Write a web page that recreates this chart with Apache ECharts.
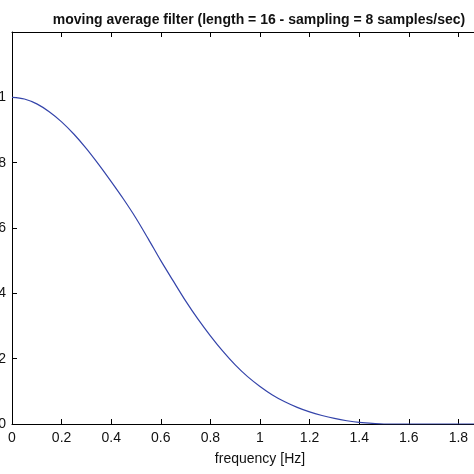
<!DOCTYPE html>
<html>
<head>
<meta charset="utf-8">
<script src="https://cdn.jsdelivr.net/npm/echarts@6/dist/echarts.min.js"></script>
<style>
  html, body { margin: 0; padding: 0; background: #fff; }
  #chart { width: 474px; height: 474px; }
</style>
</head>
<body>
<div id="chart"></div>
<script>
// frequency in Hz
const freq = [0, 0.05, 0.1, 0.15, 0.2, 0.25, 0.3, 0.35, 0.4, 0.45, 0.5, 0.55, 0.6, 0.65, 0.7, 0.75, 0.8, 0.85, 0.9, 0.95, 1.0,
  1.05, 1.1, 1.15, 1.2, 1.25, 1.3, 1.35, 1.4, 1.5, 1.6, 1.7, 1.8, 1.9, 2.0]
// magnitude response
const gain = [1.0, 0.995, 0.98, 0.956, 0.925, 0.887, 0.843, 0.794, 0.742, 0.688, 0.630, 0.566, 0.500, 0.438, 0.377, 0.321, 0.270, 0.223, 0.181, 0.145, 0.115,
  0.089, 0.068, 0.051, 0.037, 0.026, 0.017, 0.010, 0.005, 0, 0, 0, 0, 0, 0]

const titleText = "moving average filter (length = 16 - sampling = 8 samples/sec)"
const xName = "frequency [Hz]"

let myChart = echarts.init(document.getElementById("chart"))

const frame = { show: true, onZero: false, lineStyle: { color: "#000", width: 1 } }
const ticksIn = { show: true, inside: true, length: 5, lineStyle: { color: "#000" } }

myChart.setOption({
  animation: false,
  title: {
    text: titleText,
    left: 254,
    top: 8,
    textAlign: "center",
    textStyle: { fontFamily: "Liberation Sans", fontSize: 14, fontWeight: "bold", color: "#111" },
  },
  grid: { left: 12, top: 32, width: 496, height: 392, outerBoundsMode: "none", containLabel: false },
  xAxis: [
    {
      type: "value",
      min: 0,
      max: 2,
      interval: 0.2,
      position: "bottom",
      name: xName,
      nameLocation: "middle",
      nameGap: 28,
      nameTextStyle: { fontFamily: "Liberation Sans", fontSize: 14, color: "#111" },
      axisLine: frame,
      axisTick: ticksIn,
      axisLabel: { fontFamily: "Liberation Sans", fontSize: 14, color: "#111", margin: 7 },
      splitLine: { show: false },
    },
    {
      type: "value",
      min: 0,
      max: 2,
      interval: 0.2,
      position: "top",
      axisLine: frame,
      axisTick: ticksIn,
      axisLabel: { show: false },
      splitLine: { show: false },
    },
  ],
  yAxis: [
    {
      type: "value",
      min: 0,
      max: 1.2,
      interval: 0.2,
      axisLine: frame,
      axisTick: ticksIn,
      axisLabel: {
        fontFamily: "Liberation Sans",
        fontSize: 14,
        color: "#111",
        margin: 6,
        formatter: (v) => (v > 1.05 ? "" : String(+v.toFixed(1))),
      },
      splitLine: { show: false },
    },
  ],
  series: [
    {
      type: "line",
      data: freq.map((f, i) => [f, gain[i]]),
      smooth: 0.3,
      showSymbol: false,
      lineStyle: { color: "#3444aa", width: 1.2 },
    },
  ],
})
</script>
</body>
</html>
